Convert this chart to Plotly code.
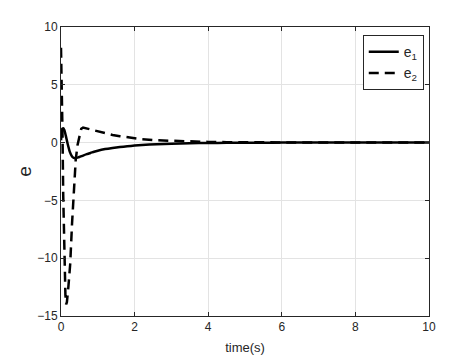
import plotly.graph_objects as go

# e1 (solid)
t1 = [0, 0.02, 0.04, 0.06, 0.09, 0.13, 0.18, 0.24, 0.30, 0.35, 0.38, 0.45, 0.5, 0.6, 0.7, 0.8,
      0.9, 1.0, 1.2, 1.4, 1.6, 1.8, 2.0, 2.2, 2.6, 3.0, 3.5, 4.0, 4.5, 5, 5.5, 6, 6.5, 7, 7.5, 8,
      8.5, 9, 9.5, 10]
e1 = [0.2, 0.8, 1.15, 1.25, 1.1, 0.6, -0.1, -0.8, -1.2, -1.33, -1.35, -1.3, -1.25, -1.12, -1.0,
      -0.9, -0.79, -0.7, -0.56, -0.46, -0.38, -0.32, -0.26, -0.21, -0.14, -0.09, -0.05, -0.03,
      -0.02, -0.01, -0.01, 0.0, 0.0, 0.0, 0.0, 0.0, 0.0, 0.0, 0.0, 0.0]

# e2 (dashed)
t2 = [0, 0.02, 0.04, 0.06, 0.08, 0.10, 0.12, 0.14, 0.16, 0.20, 0.25, 0.30, 0.35, 0.40, 0.45,
      0.50, 0.55, 0.60, 0.7, 0.8, 0.9, 1.0, 1.2, 1.4, 1.6, 1.8, 2.0, 2.2, 2.6, 3.0, 3.5, 4.0,
      4.5, 5, 5.5, 6, 7, 8, 9, 10]
e2 = [8.2, 5.5, 1.0, -4.5, -8.5, -11.3, -13.2, -14.0, -13.8, -12.5, -10.5, -7.0, -4.0, -1.5,
      -0.2, 0.6, 1.2, 1.3, 1.22, 1.12, 1.03, 0.95, 0.78, 0.66, 0.55, 0.45, 0.37, 0.3, 0.2, 0.15,
      0.1, 0.06, 0.04, 0.02, 0.01, 0.0, 0.0, 0.0, 0.0, 0.0]

x_ticks = [0, 2, 4, 6, 8, 10]
y_ticks = [-15, -10, -5, 0, 5, 10]

fig = go.Figure()
fig.add_trace(go.Scatter(x=t1, y=e1, mode="lines", name="e<sub>1</sub>",
                         line=dict(color="black", width=2.5, shape="spline", smoothing=0.6)))
fig.add_trace(go.Scatter(x=t2, y=e2, mode="lines", name="e<sub>2</sub>",
                         line=dict(color="black", width=2.5, dash="10px,6px")))

axis_common = dict(showline=True, linecolor="#262626", linewidth=1, mirror="ticks",
                   ticks="inside", ticklen=4, tickcolor="#262626", automargin=False,
                   showgrid=True, gridcolor="#e3e3e3", gridwidth=1, zeroline=False,
                   tickfont=dict(family="Liberation Sans, Arial", size=12, color="#262626"))

fig.update_layout(
    width=474, height=355,
    margin=dict(l=61, r=45, t=27, b=39),
    paper_bgcolor="white", plot_bgcolor="white",
    font=dict(family="Liberation Sans, Arial", color="#262626"),
    xaxis=dict(range=[0, 10], tickvals=x_ticks,
               title=dict(text="time(s)", font=dict(size=13), standoff=9), **axis_common),
    yaxis=dict(range=[-15, 10], tickvals=y_ticks,
               title=dict(text="e", font=dict(size=19), standoff=0), **axis_common),
    legend=dict(x=0.82, y=0.972, xanchor="left", yanchor="top", bgcolor="white",
                bordercolor="#262626", borderwidth=1, font=dict(size=14),
                tracegroupgap=0),
    showlegend=True,
)

fig.write_html("out.html")
